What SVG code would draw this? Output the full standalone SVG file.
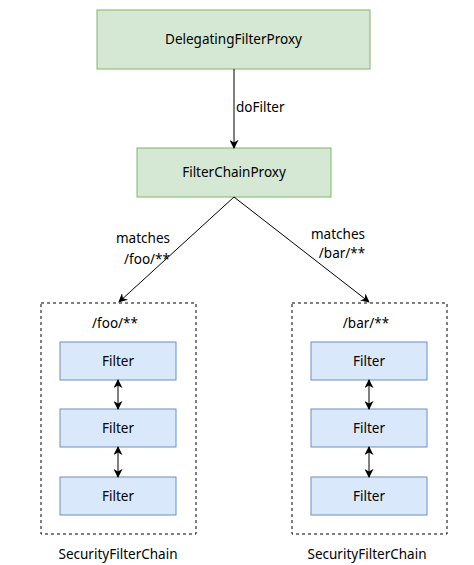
<svg xmlns="http://www.w3.org/2000/svg" width="474" height="565" viewBox="0 0 474 565">
<defs>
<style>
text{font-family:"Noto Sans","Open Sans","Liberation Sans",sans-serif;font-size:13.5px;fill:#000;}
.g{fill:#d5e8d4;stroke:#82b366;stroke-width:1}
.b{fill:#dae8fc;stroke:#6c8ebf;stroke-width:1}
.d{fill:none;stroke:#000;stroke-width:1;stroke-dasharray:3 3}
.c{fill:none;stroke:#000;stroke-width:1}
.m{text-anchor:middle}
</style>
<marker id="ah" viewBox="0 0 10 10" refX="9" refY="5" markerWidth="9" markerHeight="9" orient="auto-start-reverse" markerUnits="userSpaceOnUse">
<path d="M0,0 L10,5 L0,10 L3,5 Z" fill="#000"/>
</marker>
</defs>
<rect width="474" height="565" fill="#fff"/>
<g id="delegating"><rect class="g" x="97" y="10" width="273" height="59"/><text class="m" x="233.5" y="44">DelegatingFilterProxy</text></g>
<g id="filterchainproxy"><rect class="g" x="137" y="148" width="194" height="49"/><text class="m" x="234" y="177">FilterChainProxy</text></g>
<g id="chain-foo"><rect class="d" x="41" y="303" width="155" height="231"/><text class="m" x="115" y="328">/foo/**</text><text class="m" x="118" y="559">SecurityFilterChain</text></g>
<g id="chain-bar"><rect class="d" x="292" y="303" width="155" height="231"/><text class="m" x="366" y="328">/bar/**</text><text class="m" x="367" y="559">SecurityFilterChain</text></g>
<g id="foo-f1"><rect class="b" x="60" y="342" width="116" height="38"/><text class="m" x="118" y="366">Filter</text></g>
<g id="foo-f2"><rect class="b" x="60" y="409" width="116" height="38"/><text class="m" x="118" y="433">Filter</text></g>
<g id="foo-f3"><rect class="b" x="60" y="477" width="116" height="38"/><text class="m" x="118" y="501">Filter</text></g>
<g id="bar-f1"><rect class="b" x="311" y="342" width="116" height="38"/><text class="m" x="369" y="366">Filter</text></g>
<g id="bar-f2"><rect class="b" x="311" y="409" width="116" height="38"/><text class="m" x="369" y="433">Filter</text></g>
<g id="bar-f3"><rect class="b" x="311" y="477" width="116" height="38"/><text class="m" x="369" y="501">Filter</text></g>
<g id="connectors">
<line class="c" x1="234" y1="69" x2="234" y2="148" marker-end="url(#ah)"/>
<text x="236" y="112">doFilter</text>
<line class="c" x1="234" y1="197" x2="119" y2="302" marker-end="url(#ah)"/>
<text class="m" x="143" y="243">matches</text>
<text class="m" x="147" y="264">/foo/**</text>
<line class="c" x1="234" y1="197" x2="369" y2="302" marker-end="url(#ah)"/>
<text class="m" x="338" y="239">matches</text>
<text class="m" x="342" y="258">/bar/**</text>
<line class="c" x1="118" y1="380" x2="118" y2="409" marker-start="url(#ah)" marker-end="url(#ah)"/>
<line class="c" x1="118" y1="447" x2="118" y2="477" marker-start="url(#ah)" marker-end="url(#ah)"/>
<line class="c" x1="369" y1="380" x2="369" y2="409" marker-start="url(#ah)" marker-end="url(#ah)"/>
<line class="c" x1="369" y1="447" x2="369" y2="477" marker-start="url(#ah)" marker-end="url(#ah)"/>
</g>
</svg>
